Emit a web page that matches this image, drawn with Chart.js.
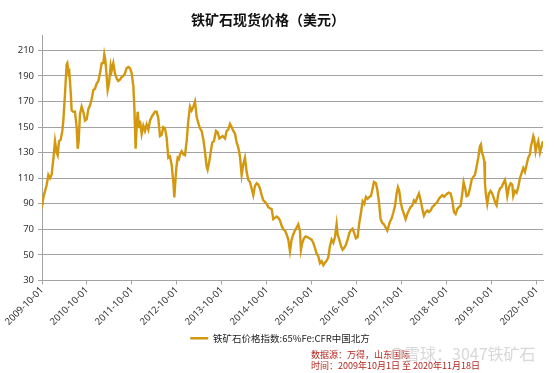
<!DOCTYPE html>
<html>
<head>
<meta charset="utf-8">
<script src="https://cdn.jsdelivr.net/npm/chart.js@4.4.0/dist/chart.umd.min.js"></script>
<style>
  html, body { margin: 0; padding: 0; background: #fff; }
</style>
</head>
<body>
<canvas id="myChart" width="554" height="373"></canvas>
<script>

// iron ore index 65%Fe CFR north China, USD/t
// x is a decimal year where 2009.75 = 2009-10-01
var years = [
  2009.75, 2009.765, 2009.794, 2009.854, 2009.891, 2009.928, 2009.965, 2010.002, 2010.039, 2010.076,
  2010.098, 2010.128, 2010.165, 2010.202, 2010.224, 2010.261, 2010.298, 2010.313, 2010.343, 2010.357,
  2010.394, 2010.409, 2010.446, 2010.483, 2010.520, 2010.543, 2010.565, 2010.594, 2010.631, 2010.669,
  2010.706, 2010.743, 2010.780, 2010.817, 2010.854, 2010.891, 2010.928, 2010.965, 2011.002, 2011.039,
  2011.076, 2011.113, 2011.135, 2011.157, 2011.187, 2011.209, 2011.239, 2011.276, 2011.298, 2011.335,
  2011.372, 2011.409, 2011.446, 2011.483, 2011.520, 2011.557, 2011.594, 2011.631, 2011.669, 2011.706,
  2011.743, 2011.780, 2011.802, 2011.831, 2011.854, 2011.876, 2011.906, 2011.928, 2011.965, 2012.002,
  2012.039, 2012.076, 2012.113, 2012.150, 2012.187, 2012.224, 2012.261, 2012.298, 2012.335, 2012.372,
  2012.409, 2012.446, 2012.483, 2012.520, 2012.557, 2012.594, 2012.631, 2012.669, 2012.691, 2012.713,
  2012.735, 2012.765, 2012.794, 2012.817, 2012.854, 2012.891, 2012.928, 2012.965, 2013.002, 2013.039,
  2013.076, 2013.113, 2013.150, 2013.187, 2013.224, 2013.261, 2013.298, 2013.335, 2013.372, 2013.409,
  2013.431, 2013.468, 2013.498, 2013.535, 2013.572, 2013.617, 2013.654, 2013.691, 2013.728, 2013.765,
  2013.817, 2013.854, 2013.891, 2013.928, 2013.965, 2014.002, 2014.039, 2014.076, 2014.113, 2014.150,
  2014.187, 2014.224, 2014.261, 2014.298, 2014.335, 2014.372, 2014.409, 2014.446, 2014.483, 2014.520,
  2014.557, 2014.594, 2014.631, 2014.668, 2014.705, 2014.742, 2014.779, 2014.816, 2014.853, 2014.890,
  2014.928, 2014.965, 2015.002, 2015.039, 2015.076, 2015.113, 2015.150, 2015.187, 2015.224, 2015.261,
  2015.298, 2015.335, 2015.372, 2015.409, 2015.446, 2015.483, 2015.505, 2015.535, 2015.572, 2015.609,
  2015.646, 2015.691, 2015.742, 2015.779, 2015.816, 2015.853, 2015.891, 2015.928, 2015.965, 2016.002,
  2016.039, 2016.076, 2016.113, 2016.150, 2016.187, 2016.224, 2016.261, 2016.298, 2016.320, 2016.357,
  2016.394, 2016.431, 2016.468, 2016.505, 2016.542, 2016.579, 2016.616, 2016.653, 2016.690, 2016.727,
  2016.765, 2016.802, 2016.839, 2016.876, 2016.913, 2016.950, 2016.987, 2017.024, 2017.061, 2017.098,
  2017.128, 2017.172, 2017.202, 2017.239, 2017.276, 2017.313, 2017.350, 2017.387, 2017.424, 2017.446,
  2017.483, 2017.520, 2017.557, 2017.594, 2017.632, 2017.661, 2017.691, 2017.720, 2017.757, 2017.795,
  2017.832, 2017.869, 2017.906, 2017.943, 2017.980, 2018.017, 2018.054, 2018.091, 2018.128, 2018.165,
  2018.202, 2018.239, 2018.276, 2018.313, 2018.350, 2018.387, 2018.424, 2018.461, 2018.498, 2018.535,
  2018.572, 2018.609, 2018.646, 2018.683, 2018.720, 2018.758, 2018.795, 2018.832, 2018.869, 2018.906,
  2018.943, 2018.980, 2019.017, 2019.054, 2019.091, 2019.120, 2019.150, 2019.187, 2019.224, 2019.261,
  2019.298, 2019.335, 2019.372, 2019.409, 2019.446, 2019.483, 2019.506, 2019.528, 2019.558, 2019.580,
  2019.595, 2019.617, 2019.646, 2019.683, 2019.720, 2019.757, 2019.795, 2019.832, 2019.854, 2019.891,
  2019.928, 2019.965, 2020.002, 2020.039, 2020.061, 2020.091, 2020.128, 2020.165, 2020.202, 2020.224,
  2020.261, 2020.298, 2020.335, 2020.372, 2020.409, 2020.446, 2020.483, 2020.520, 2020.557, 2020.594,
  2020.617, 2020.646, 2020.669, 2020.691, 2020.720, 2020.743, 2020.780, 2020.817, 2020.854, 2020.884
];
var price = [
  93, 92, 97, 104.7, 112.6, 110, 113, 125, 139, 130,
  128, 139, 140, 147, 155, 176, 199, 200, 192, 193,
  174, 163, 162, 162, 150, 133, 139, 160, 166, 162,
  155, 156, 164, 167, 172, 179, 180, 184, 186, 192,
  200, 200, 207, 203, 190, 179, 184, 198, 194, 200,
  192, 188, 186, 187, 189, 190, 192, 196, 197, 196,
  192, 182, 166, 133, 150, 162, 150, 155, 144.5, 151,
  147, 152, 148, 155, 158, 160, 162, 162, 157, 143,
  144, 150, 149, 142, 126, 127, 120.6, 107, 95, 107,
  118, 126, 125, 128.6, 131, 128.6, 128, 139, 155, 166,
  163, 166, 170, 158, 153, 149, 147, 140.5, 131, 119,
  116.6, 123, 130, 138, 139, 147, 146, 141, 142, 143,
  141, 147, 148, 152.5, 150, 147, 145, 138, 134, 127,
  112.6, 121, 126, 115, 108.7, 107, 102, 96.7, 104, 106,
  105, 102, 97, 92.7, 91.5, 90, 87.4, 86.5, 86, 78,
  79, 80, 79, 77, 72.8, 70, 69, 66, 62, 53,
  62, 66, 69, 71.5, 74, 69, 54, 59.5, 63, 64.5,
  64, 63, 62, 59.5, 55.5, 51, 49, 43.5, 45, 42,
  44, 45.5, 48, 57, 62, 59.5, 64, 74, 66, 62,
  57, 54, 55.5, 58, 62, 67, 69.5, 70.5, 67, 63,
  64, 75, 83, 92, 90, 95.4, 94, 95.4, 96, 102,
  107, 106, 101, 91.4, 78, 75, 74, 71.5, 69, 71.5,
  76, 78.5, 83, 88, 98, 103, 100, 91.4, 86, 82,
  78, 82, 85, 87.4, 88.6, 92.7, 91.4, 95, 98, 92.7,
  86, 80.7, 83.5, 84.8, 83.5, 84.8, 87.4, 88.6, 90, 91.4,
  94, 95.4, 96.7, 95.4, 96.7, 98, 98.7, 98, 92.7, 83.5,
  82, 86, 87.4, 88.6, 98, 107, 103, 96, 96.7, 102,
  108.6, 111, 112.6, 119, 126, 135, 136.5, 130, 127, 123,
  106, 96.7, 90, 98, 100, 98, 94, 90, 88.6, 98,
  102, 103, 106, 108.6, 104.7, 96, 103, 106, 105, 96,
  100, 98.7, 103, 110, 114, 118, 115, 120.6, 126, 128.6,
  135, 139, 143, 140.5, 131, 135, 139, 130, 135, 139
];

var tickYears = [2009, 2010, 2011, 2012, 2013, 2014, 2015, 2016, 2017, 2018, 2019, 2020];
var yTicks = [30, 50, 70, 90, 110, 130, 150, 170, 190, 210];
var startYear = 2009.75;
var endYear = 2020.885;   // 2020-11-18

var titleText = "铁矿石现货价格（美元）";
var seriesName = "铁矿石价格指数:65%Fe:CFR中国北方";
var sourceText = "数据源：万得，山东国际";
var timeText = "时间：2009年10月1日 至 2020年11月18日";
var markText = "雪球：3047铁矿石";

var lineColor = "#d3980f";
var gridColor = "#a3a3a3";
var tickFont = { family: "Noto Sans", size: 9.5 };

// title, source lines and watermark
const notes = {
  id: "notes",
  afterDraw(chart) {
    const ctx = chart.ctx;
    ctx.save();
    ctx.textBaseline = "middle";
    ctx.textAlign = "center";
    ctx.fillStyle = "#111";
    ctx.font = 'bold 14px "Noto Sans CJK SC"';
    ctx.fillText(titleText, 268, 20);

    ctx.textAlign = "left";
    ctx.fillStyle = "#b3261e";
    ctx.font = '9px "Noto Sans CJK SC"';
    ctx.fillText(sourceText, 311, 355);
    ctx.fillText(timeText, 311, 366);

    ctx.globalAlpha = 0.7;
    ctx.strokeStyle = "#c8c8c8";
    ctx.lineWidth = 1.5;
    ctx.beginPath();
    ctx.arc(397, 354, 5.5, 0, Math.PI * 2);
    ctx.stroke();
    ctx.fillStyle = "#c8c8c8";
    ctx.font = '16px "Noto Sans CJK SC"';
    ctx.fillText(markText, 404, 354);
    ctx.restore();
  }
};

const chart = new Chart("myChart", {
  type: "line",
  data: {
    datasets: [{
      label: seriesName,
      data: years.map((t, i) => ({ x: t, y: price[i] })),
      borderColor: lineColor,
      backgroundColor: lineColor,
      borderWidth: 2.4,
      pointRadius: 0,
      tension: 0,
      fill: false
    }]
  },
  options: {
    responsive: false,
    animation: false,
    events: [],
    layout: { padding: { top: 35, right: 11, left: 17, bottom: 20 } },
    plugins: {
      title: { display: false },
      tooltip: { enabled: false },
      legend: {
        display: true,
        position: "bottom",
        labels: {
          usePointStyle: true,
          pointStyle: "line",
          pointStyleWidth: 18,
          padding: 3,
          color: "#222",
          font: { family: "Noto Sans CJK SC", size: 9.5 }
        }
      }
    },
    scales: {
      x: {
        type: "linear",
        min: startYear,
        max: endYear,
        afterBuildTicks: s => { s.ticks = tickYears.map(y => ({ value: y + 0.75 })); },
        afterFit: s => { s.height = 50; },
        ticks: {
          autoSkip: false,
          minRotation: 45,
          maxRotation: 45,
          padding: 0,
          color: "#333",
          font: tickFont,
          callback: v => Math.floor(v) + "-10-01"
        },
        grid: { drawOnChartArea: false, drawTicks: true, tickLength: 4, color: gridColor },
        border: { color: gridColor }
      },
      y: {
        min: 30,
        max: 222,
        afterBuildTicks: s => { s.ticks = yTicks.map(v => ({ value: v })); },
        afterFit: s => { s.width = 25; },
        ticks: { padding: 4, color: "#333", font: tickFont },
        grid: { color: gridColor, tickLength: 4 },
        border: { color: gridColor }
      }
    }
  },
  plugins: [notes]
});
</script>
</body>
</html>
